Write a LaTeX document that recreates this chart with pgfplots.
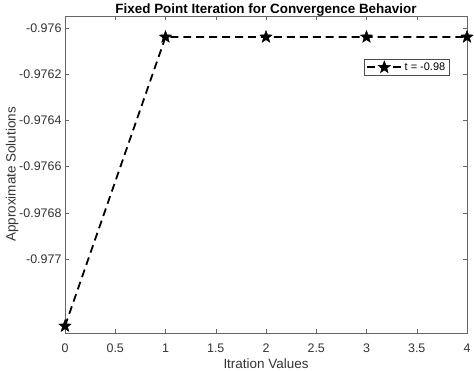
\documentclass[border=0pt]{standalone}
\usepackage{fontspec}
\setmainfont{Liberation Sans}
\usepackage{pgfplots}
\pgfplotsset{compat=1.18}
\pgfdeclareplotmark{fstar}{%
  \pgfpathmoveto{\pgfpointpolar{90}{\pgfplotmarksize}}%
  \pgfpathlineto{\pgfpointpolar{126}{0.42\pgfplotmarksize}}%
  \pgfpathlineto{\pgfpointpolar{162}{\pgfplotmarksize}}%
  \pgfpathlineto{\pgfpointpolar{198}{0.42\pgfplotmarksize}}%
  \pgfpathlineto{\pgfpointpolar{234}{\pgfplotmarksize}}%
  \pgfpathlineto{\pgfpointpolar{270}{0.42\pgfplotmarksize}}%
  \pgfpathlineto{\pgfpointpolar{306}{\pgfplotmarksize}}%
  \pgfpathlineto{\pgfpointpolar{342}{0.42\pgfplotmarksize}}%
  \pgfpathlineto{\pgfpointpolar{18}{\pgfplotmarksize}}%
  \pgfpathlineto{\pgfpointpolar{54}{0.42\pgfplotmarksize}}%
  \pgfpathclose
  \pgfusepathqfillstroke
}
\begin{document}
\begin{tikzpicture}[x=1bp,y=1bp]
\begin{axis}[
  scale only axis,
  width=402bp, height=317bp,
  xmin=0, xmax=4,
  ymin=-0.97732, ymax=-0.975948,
  xtick={0,0.5,...,4},
  ytick={-0.977,-0.9768,-0.9766,-0.9764,-0.9762,-0.976},
  yticklabels={-0.977,-0.9768,-0.9766,-0.9764,-0.9762,-0.976},
  xticklabels={0,0.5,1,1.5,2,2.5,3,3.5,4},
  tick align=inside,
  axis line style={draw=black!60},
  every tick/.style={black!60},
  major tick length=4bp,
  tick label style={font=\fontsize{12.5}{14}\selectfont, text=black!80},
  xticklabel style={yshift=-7bp},
  /pgf/number format/assume math mode=true,
  title={\bfseries Fixed Point Iteration for Convergence Behavior},
  title style={font=\fontsize{13.5}{15}\selectfont, yshift=-9.5bp},
  xlabel={Itration Values},
  ylabel={Approximate Solutions},
  label style={font=\fontsize{13.5}{15}\selectfont, text=black!80},
  xlabel style={yshift=0bp},
  ylabel style={yshift=-6bp},
  legend style={at={(0.955,0.864)}, anchor=north east, font=\fontsize{11}{12}\selectfont, draw=black!70, inner sep=1.5pt, row sep=0pt},
  legend cell align=left,
  legend image code/.code={%
    \draw[#1, dash pattern=on 8bp off 5bp] (0bp,0bp) -- (35bp,0bp);
    \draw[#1, solid] plot coordinates {(17.5bp,0bp)};
  },
]
\addplot[black, line width=1.8pt, dash pattern=on 8pt off 5pt, mark=fstar, mark size=6.5bp, mark options={solid, fill=black, line width=0.4pt}]
  coordinates {(0,-0.97729) (1,-0.976039) (2,-0.976039) (3,-0.976039) (4,-0.976039)};
\addlegendentry{t = -0.98}
\end{axis}
\pgfresetboundingbox
\path[use as bounding box] (-65bp,-38bp) rectangle (409bp,333bp);
\end{tikzpicture}
\end{document}
